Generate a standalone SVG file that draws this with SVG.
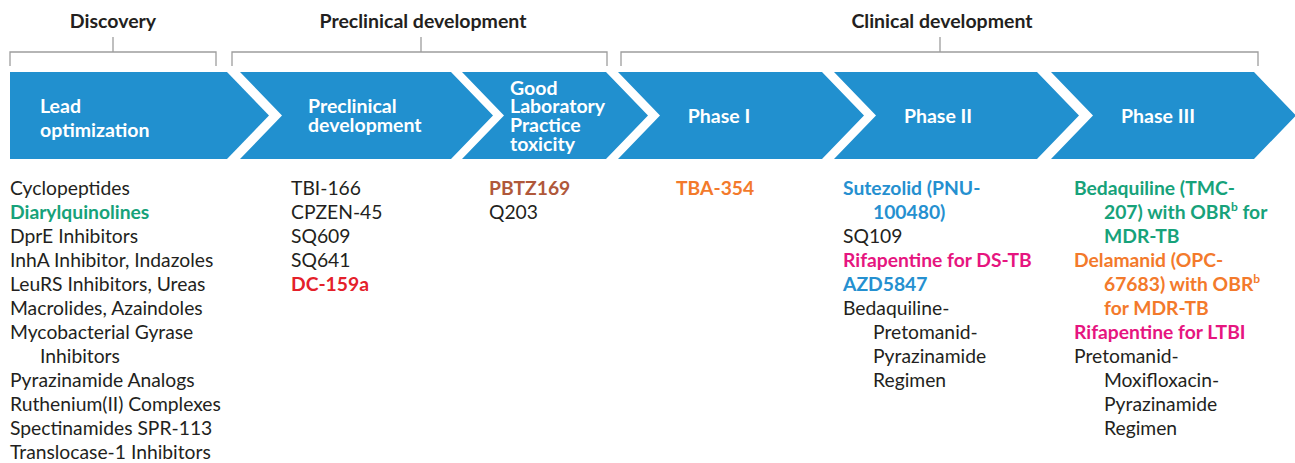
<svg xmlns="http://www.w3.org/2000/svg" width="1295" height="463" viewBox="0 0 1295 463">
<style>
.chev{fill:#2190cf}
.ct{font-family:Lato,"Liberation Sans",sans-serif;font-weight:bold;font-size:19.5px;fill:#ffffff}
.hd{font-family:Lato,"Liberation Sans",sans-serif;font-weight:bold;font-size:19.5px;fill:#231f20;text-anchor:middle}
.br{fill:none;stroke:#9d9d9d;stroke-width:1.3}
.it{font-family:Lato,"Liberation Sans",sans-serif;font-size:19.3px;fill:#231f20}
.b{font-weight:bold}
.green{fill:#17a27a}
.red{fill:#e4202a}
.brown{fill:#b0583a}
.orange{fill:#f37a2b}
.blue{fill:#2590d0}
.mag{fill:#e6157f}
</style>
<g id="headings">
<text class="hd" x="113" y="28">Discovery</text>
<text class="hd" x="423" y="28">Preclinical development</text>
<text class="hd" x="942" y="28">Clinical development</text>
</g>
<g id="brackets">
<path class="br" d="M10,66 V52 H216 V66 M113,52 V37"/>
<path class="br" d="M232,66 V52 H607 V66 M421,52 V37"/>
<path class="br" d="M621,66 V52 H1258 V66 M940,52 V37"/>
</g>
<g id="stage-lead">
<polygon class="chev" points="10,72 227,72 269,115.5 227,159 10,159"/>
<text class="ct" x="40" y="113">Lead</text>
<text class="ct" x="40" y="137">optimization</text>
</g>
<g id="stage-preclinical">
<polygon class="chev" points="240,72 451,72 493,115.5 451,159 240,159 282,115.5"/>
<text class="ct" x="308" y="113">Preclinical</text>
<text class="ct" x="308" y="132">development</text>
</g>
<g id="stage-glp">
<polygon class="chev" points="462,72 606,72 648,115.5 606,159 462,159 504,115.5"/>
<text class="ct" x="510" y="95">Good</text>
<text class="ct" x="510" y="113">Laboratory</text>
<text class="ct" x="510" y="132">Practice</text>
<text class="ct" x="510" y="151">toxicity</text>
</g>
<g id="stage-phase1">
<polygon class="chev" points="618,72 822,72 864,115.5 822,159 618,159 660,115.5"/>
<text class="ct" x="719" y="123" text-anchor="middle">Phase I</text>
</g>
<g id="stage-phase2">
<polygon class="chev" points="834,72 1037,72 1079,115.5 1037,159 834,159 876,115.5"/>
<text class="ct" x="938" y="123" text-anchor="middle">Phase II</text>
</g>
<g id="stage-phase3">
<polygon class="chev" points="1051,72 1254,72 1296,115.5 1254,159 1051,159 1093,115.5"/>
<text class="ct" x="1158" y="123" text-anchor="middle">Phase III</text>
</g>
<g id="connectors"/>
<g id="list-discovery" class="it">
<text x="10" y="195">Cyclopeptides</text>
<text x="10" y="219" class="b green">Diarylquinolines</text>
<text x="10" y="243">DprE Inhibitors</text>
<text x="10" y="267">InhA Inhibitor, Indazoles</text>
<text x="10" y="291">LeuRS Inhibitors, Ureas</text>
<text x="10" y="315">Macrolides, Azaindoles</text>
<text x="10" y="339">Mycobacterial Gyrase</text>
<text x="40" y="363">Inhibitors</text>
<text x="10" y="387">Pyrazinamide Analogs</text>
<text x="10" y="411">Ruthenium(II) Complexes</text>
<text x="10" y="435">Spectinamides SPR-113</text>
<text x="10" y="459">Translocase-1 Inhibitors</text>
</g>
<g id="list-preclinical" class="it">
<text x="291" y="195">TBI-166</text>
<text x="291" y="219">CPZEN-45</text>
<text x="291" y="243">SQ609</text>
<text x="291" y="267">SQ641</text>
<text x="291" y="291" class="b red">DC-159a</text>
</g>
<g id="list-glp" class="it">
<text x="489" y="195" class="b brown">PBTZ169</text>
<text x="489" y="219">Q203</text>
</g>
<g id="list-phase1" class="it">
<text x="676" y="195" class="b orange">TBA-354</text>
</g>
<g id="list-phase2" class="it">
<text x="843" y="195" class="b blue">Sutezolid (PNU-</text>
<text x="873" y="219" class="b blue">100480)</text>
<text x="843" y="243">SQ109</text>
<text x="843" y="267" class="b mag">Rifapentine for DS-TB</text>
<text x="843" y="291" class="b blue">AZD5847</text>
<text x="843" y="315">Bedaquiline-</text>
<text x="873" y="339">Pretomanid-</text>
<text x="873" y="363">Pyrazinamide</text>
<text x="873" y="387">Regimen</text>
</g>
<g id="list-phase3" class="it">
<text x="1074" y="195" class="b green">Bedaquiline (TMC-</text>
<text x="1104" y="219" class="b green">207) with OBR<tspan font-size="12" dy="-8">b</tspan><tspan dy="8"> for</tspan></text>
<text x="1104" y="243" class="b green">MDR-TB</text>
<text x="1074" y="267" class="b orange">Delamanid (OPC-</text>
<text x="1104" y="291" class="b orange">67683) with OBR<tspan font-size="12" dy="-8">b</tspan></text>
<text x="1104" y="315" class="b orange">for MDR-TB</text>
<text x="1074" y="339" class="b mag">Rifapentine for LTBI</text>
<text x="1074" y="363">Pretomanid-</text>
<text x="1104" y="387">Moxifloxacin-</text>
<text x="1104" y="411">Pyrazinamide</text>
<text x="1104" y="435">Regimen</text>
</g>
</svg>
